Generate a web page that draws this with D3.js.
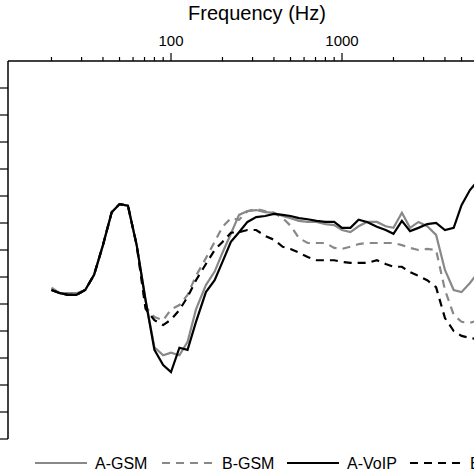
<!DOCTYPE html>
<html><head><meta charset="utf-8">
<script src="https://cdn.jsdelivr.net/npm/d3@7"></script>
<style>body{margin:0;background:#fff}</style>
</head><body>
<script>
const freqs = [20,22.4,25,28,31.5,35.5,40,45,50,56,63,71,80,90,100,112,125,140,160,180,200,224,250,280,315,355,400,450,500,560,630,710,800,900,1000,1120,1250,1400,1600,1800,2000,2240,2500,2800,3150,3550,4000,4500,5000,5600,6300];
const aVoip = [-42.4,-43,-43.3,-43.3,-42.4,-39.6,-34.1,-28,-26.5,-26.8,-34.1,-44.3,-53.5,-56.3,-57.6,-53.1,-53.5,-48.3,-42.8,-40.6,-37.2,-33.5,-31.7,-29.8,-28.9,-28.7,-28.3,-28.5,-28.7,-29.1,-29.3,-29.6,-29.8,-29.8,-30.9,-30.9,-29.4,-29.8,-30.7,-31.3,-32,-29.6,-31.5,-30.9,-30.2,-30,-31.3,-30.9,-26.7,-23.9,-22];
const aGsm = [-42,-43,-43,-43,-42.4,-39.6,-34.1,-28,-26.5,-26.8,-34.1,-44.3,-53,-54.5,-54,-54.5,-52,-46,-41.5,-39,-35.5,-32,-28.5,-27.8,-27.6,-28,-28.1,-28.7,-29.1,-29.6,-29.8,-29.8,-30.2,-30.4,-31.3,-31.7,-30.6,-29.8,-29.8,-30.6,-30.9,-28.1,-30.9,-29.8,-30.6,-32.2,-38.7,-42.4,-42.8,-41.1,-39];
const bGsm = [-42.4,-43,-43.3,-43.3,-42.4,-39.6,-34.1,-28,-26.5,-26.8,-34.1,-45.5,-47.4,-48,-46,-45.2,-43.3,-39.8,-36.5,-33.5,-30.7,-29.1,-29.4,-27.8,-27.4,-27.8,-28.1,-29.1,-30.5,-32.8,-33.7,-33.7,-33.7,-34.6,-34.8,-34.4,-33.9,-33.7,-33.7,-33.7,-33.7,-34.1,-34.6,-35,-34.8,-35,-42.4,-47,-48.3,-48.5,-48];
const bVoip = [-42.4,-43,-43.3,-43.3,-42.4,-39.6,-34.1,-28,-26.5,-26.8,-34.1,-45.9,-48,-48.9,-47.9,-46.1,-43.7,-40.6,-37.6,-35,-33.5,-31.8,-31.7,-31.3,-31.3,-32.4,-33.1,-34.4,-34.8,-35.5,-36.3,-36.9,-36.9,-36.9,-37.2,-37.4,-37.4,-37.4,-36.9,-37.6,-38.1,-38.1,-39.1,-39.8,-40.6,-41.9,-47.6,-50,-50.9,-51.3,-51.5];
const names = ['A-GSM','B-GSM','A-VoIP','B-VoIP'];
const xTicks = [20,30,40,50,60,70,80,90,100,200,300,400,500,600,700,800,900,1000,2000,3000,4000,5000,6000];

const W = 474, H = 474;
const svg = d3.select('body').append('svg').attr('width', W).attr('height', H)
  .style('font-family', 'Liberation Sans, Arial, sans-serif');

const x = d3.scaleLog().domain([10, 100000]).range([0, 684]);
const y = d3.scaleLinear().domain([0, -70]).range([61, 439]);

const series = [
  { name: names[0], v: aGsm, color: '#888', dash: null },
  { name: names[1], v: bGsm, color: '#888', dash: '8,6' },
  { name: names[2], v: aVoip, color: '#000', dash: null },
  { name: names[3], v: bVoip, color: '#000', dash: '8,6' },
];

// top axis
svg.append('line').attr('x1', 8).attr('x2', W).attr('y1', 61).attr('y2', 61)
  .attr('stroke', '#000').attr('stroke-width', 1.5);
svg.selectAll('.xt').data(xTicks).enter().append('line')
  .attr('x1', d => x(d)).attr('x2', d => x(d))
  .attr('y1', 61).attr('y2', d => (d === 100 || d === 1000) ? 53 : 57)
  .attr('stroke', '#000').attr('stroke-width', 1.2);
svg.selectAll('.xl').data([100, 1000]).enter().append('text')
  .attr('x', d => x(d)).attr('y', 46).attr('text-anchor', 'middle')
  .attr('font-size', 15).text(d => d);
svg.append('text').attr('x', 257).attr('y', 20).attr('text-anchor', 'middle')
  .attr('font-size', 20).text('Frequency (Hz)');

// left axis
svg.append('line').attr('x1', 8).attr('x2', 8).attr('y1', 61).attr('y2', 439)
  .attr('stroke', '#000').attr('stroke-width', 1.5);
svg.selectAll('.yt').data(d3.range(-5, -75, -5)).enter().append('line')
  .attr('x1', 0).attr('x2', 8).attr('y1', d => y(d)).attr('y2', d => y(d))
  .attr('stroke', '#000').attr('stroke-width', 1.2);

const line = d3.line().x((d, i) => x(freqs[i])).y(d => y(d));
series.forEach(s => {
  svg.append('path').datum(s.v).attr('d', line).attr('fill', 'none')
    .attr('stroke', s.color).attr('stroke-width', 2.2)
    .attr('stroke-dasharray', s.dash);
});

// legend
const lx = [35, 162, 287, 410];
series.forEach((s, i) => {
  svg.append('line').attr('x1', lx[i]).attr('x2', lx[i] + 52).attr('y1', 463).attr('y2', 463)
    .attr('stroke', s.color).attr('stroke-width', 2.2).attr('stroke-dasharray', s.dash);
  svg.append('text').attr('x', lx[i] + 60).attr('y', 469).attr('font-size', 16).text(s.name);
});
</script>
</body></html>
